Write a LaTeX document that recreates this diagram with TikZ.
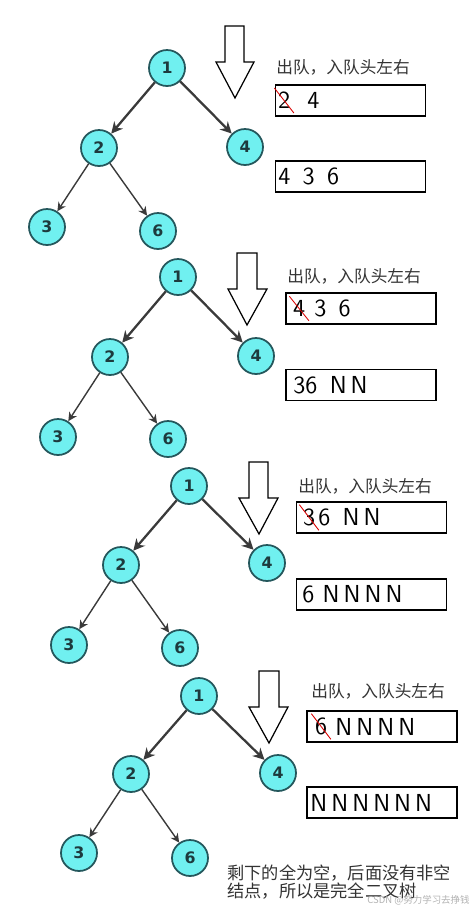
\documentclass[tikz,border=0pt]{standalone}
\usepackage{fontspec}
\usetikzlibrary{arrows.meta}
\newfontfamily\cjk{Noto Sans CJK SC}
\newfontfamily\numfont{DejaVu Sans}
\definecolor{nodefill}{RGB}{112,240,240}
\definecolor{nodeedge}{RGB}{36,87,92}
\definecolor{numcol}{RGB}{29,58,61}
\definecolor{edgecol}{RGB}{58,58,58}
\newcommand{\hgap}{\hspace{0.5em}}
\tikzset{
  vert/.style={circle,draw=nodeedge,fill=nodefill,line width=1pt,minimum size=0.72cm,inner sep=0pt,
    font=\numfont\bfseries\fontsize{9}{10}\selectfont,text=numcol},
  bigedge/.style={draw=edgecol,line width=1.3pt,-{Stealth[length=6.5pt,width=6.5pt]}},
  smalledge/.style={draw=edgecol,line width=0.8pt,-{Stealth[length=5pt,width=5pt]}},
  qbox/.style={draw,line width=0.8pt,minimum width=3.0cm,minimum height=0.62cm,inner sep=0pt},
  hand/.style={font=\sffamily\fontsize{14}{16}\selectfont,inner sep=0pt,anchor=west},
  headch/.style={hand,inner sep=1pt},
  strike/.style={draw=red!85!black,line width=0.5pt,shorten <=-1.5pt,shorten >=-1.5pt},
  downarrow/.style={draw,line width=0.7pt,fill=white},
  caption/.style={font=\cjk\fontsize{9.5}{11}\selectfont,text=black!80,anchor=west,inner sep=0pt}
}
\begin{document}
\begin{tikzpicture}[x=0.02cm,y=-0.02cm]
\useasboundingbox (0,0) rectangle (474,907);

%Panel 1
\node [vert] (A1) at (167,68) {1};
\node [vert] (A2) at (99,148) {2};
\node [vert] (A4) at (245,147) {4};
\node [vert] (A3) at (47,227) {3};
\node [vert] (A6) at (158,231) {6};
\draw [bigedge] (A1) -- (A2);
\draw [bigedge] (A1) -- (A4);
\draw [smalledge] (A2) -- (A3);
\draw [smalledge] (A2) -- (A6);
\draw [downarrow] (225,26) -- (244,26) -- (244,62) -- (254,62) -- (235,98) -- (216,62) -- (225,62) -- cycle;
\node [caption] (capA) at (276,67.5) {出队，入队头左右};
\node [qbox] (qA1) at (350.5,100.5) {};
\node [headch] (hA1) at (276,100.5) {2};
\node [hand] (rA1) at (307,100.5) {4};
\draw [strike] (hA1.north west) -- (hA1.south east);
\node [qbox] (qA2) at (350.5,176.5) {};
\node [hand] (rA2) at (278,176.5) {4\hgap3\hgap6};

%Panel 2
\node [vert] (B1) at (178,277) {1};
\node [vert] (B2) at (110,357) {2};
\node [vert] (B4) at (256,356) {4};
\node [vert] (B3) at (58,437) {3};
\node [vert] (B6) at (168,439) {6};
\draw [bigedge] (B1) -- (B2);
\draw [bigedge] (B1) -- (B4);
\draw [smalledge] (B2) -- (B3);
\draw [smalledge] (B2) -- (B6);
\draw [downarrow] (237,253) -- (257,253) -- (257,289) -- (267,289) -- (247,325) -- (228,289) -- (237,289) -- cycle;
\node [caption] (capB) at (287,276.5) {出队，入队头左右};
\node [qbox] (qB1) at (361,308.5) {};
\node [headch] (hB1) at (291,308.5) {4};
\node [hand] (rB1) at (314,308.5) {3\hgap6};
\draw [strike] (hB1.north west) -- (hB1.south east);
\node [qbox] (qB2) at (361,385) {};
\node [hand] (rB2) at (293,385) {36\hgap N\,N};

%Panel 3
\node [vert] (C1) at (189,486) {1};
\node [vert] (C2) at (121,565) {2};
\node [vert] (C4) at (267,563) {4};
\node [vert] (C3) at (69,645) {3};
\node [vert] (C6) at (180,648) {6};
\draw [bigedge] (C1) -- (C2);
\draw [bigedge] (C1) -- (C4);
\draw [smalledge] (C2) -- (C3);
\draw [smalledge] (C2) -- (C6);
\draw [downarrow] (249,462) -- (268,462) -- (268,498) -- (278,498) -- (259,534) -- (239,498) -- (249,498) -- cycle;
\node [caption] (capC) at (298,486.5) {出队，入队头左右};
\node [qbox] (qC1) at (371.5,517.5) {};
\node [headch] (hC1) at (301,517.5) {3};
\node [hand] (rC1) at (318,517.5) {6\hgap N\,N};
\draw [strike] (hC1.north west) -- (hC1.south east);
\node [qbox] (qC2) at (371.5,594.5) {};
\node [hand] (rC2) at (302,594.5) {6\,\,N\,N\,N\,N};

%Panel 4
\node [vert] (D1) at (199,696) {1};
\node [vert] (D2) at (131,774) {2};
\node [vert] (D4) at (278,773) {4};
\node [vert] (D3) at (79,853) {3};
\node [vert] (D6) at (190,858) {6};
\draw [bigedge] (D1) -- (D2);
\draw [bigedge] (D1) -- (D4);
\draw [smalledge] (D2) -- (D3);
\draw [smalledge] (D2) -- (D6);
\draw [downarrow] (259,671) -- (279,671) -- (279,707) -- (288,707) -- (269,743) -- (249,707) -- (259,707) -- cycle;
\node [caption] (capD) at (311,691.5) {出队，入队头左右};
\node [qbox] (qD1) at (382,726.5) {};
\node [headch] (hD1) at (313,726.5) {6};
\node [hand] (rD1) at (335,726.5) {N\,N\,N\,N};
\draw [strike] (hD1.north west) -- (hD1.south east);
\node [qbox] (qD2) at (382,802.5) {};
\node [hand] (rD2) at (310,802.5) {N\,N\,N\,N\,N\,N};

%Conclusion
\node [caption,anchor=north west,align=left,font=\cjk\fontsize{9.8}{10.8}\selectfont] (note) at (227,864)
  {剩下的全为空，后面没有非空\\结点，所以是完全二叉树};
\node [caption,text=black!30,font=\cjk\fontsize{5.4}{6}\selectfont] (mark) at (367,900) {CSDN @努力学习去挣钱};

\end{tikzpicture}
\end{document}
